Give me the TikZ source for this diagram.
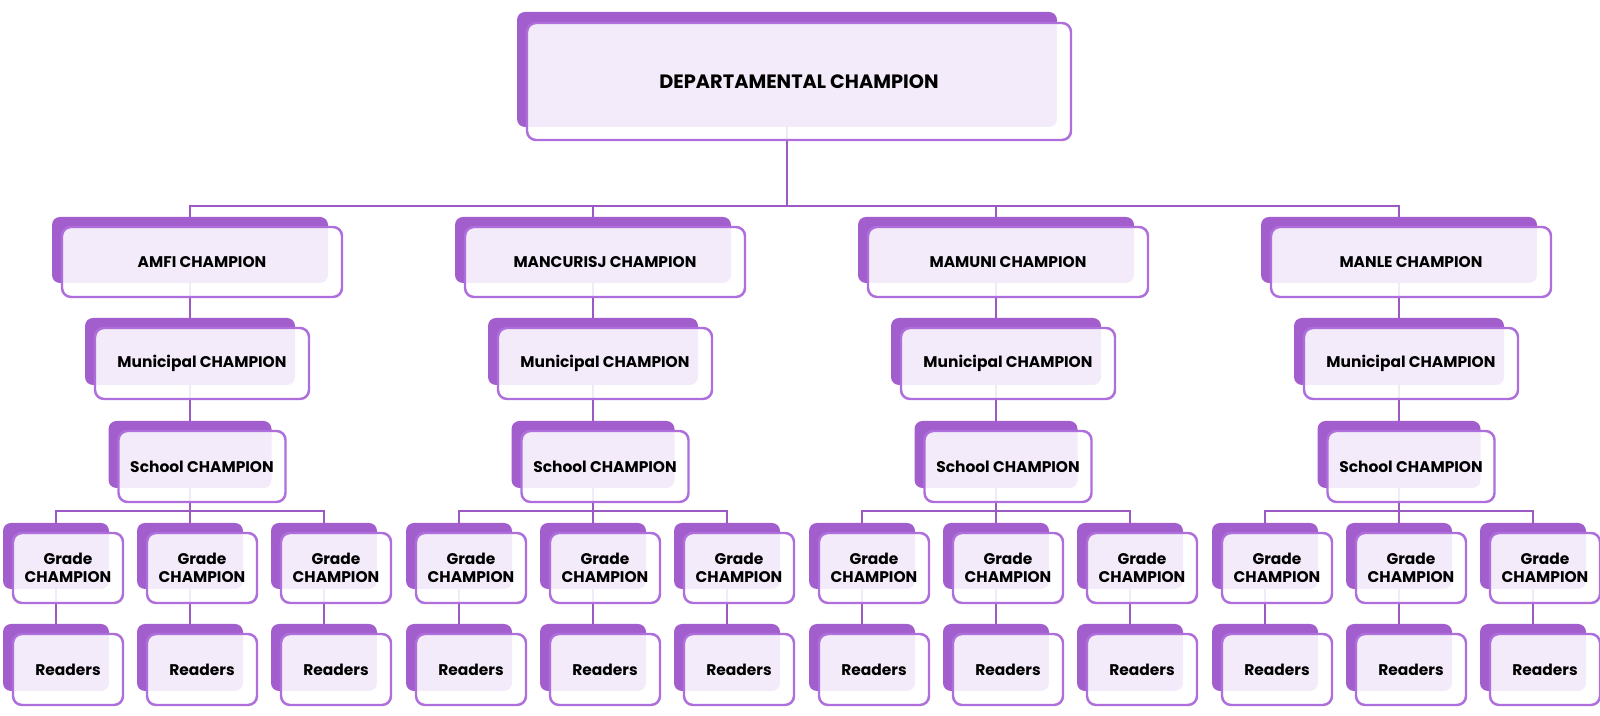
\documentclass[tikz,border=0pt]{standalone}
\usepackage{fontspec}
\setmainfont{Poppins}
\usetikzlibrary{backgrounds}
\definecolor{backpurple}{HTML}{A35ECE}
\definecolor{edgepurple}{HTML}{AE6FDC}
\definecolor{linepurple}{HTML}{9B59C4}
\tikzset{
  backbox/.style={fill=backpurple, rounded corners=0.16cm, inner sep=0pt},
  frontbox/.style={draw=edgepurple, line width=1.4pt, fill=white, fill opacity=0.88, text opacity=1, rounded corners=0.18cm, inner sep=0pt, align=center, font=\bfseries\fontsize{8.8}{10.2}\selectfont},
  link/.style={draw=linepurple, line width=1.6pt}
}
\begin{document}
\begin{tikzpicture}
\useasboundingbox (0.000,0.000) rectangle (32.000,14.320);
\coordinate (topbar) at (0.000,10.200);
\coordinate (schbar) at (0.000,4.100);
\node[backbox, minimum width=10.80cm, minimum height=2.30cm] (dep) at (15.740,12.930) {};
\node[frontbox, minimum width=10.88cm, minimum height=2.34cm, font=\bfseries\fontsize{11}{13}\selectfont] (dep-f) at (15.980,12.690) {DEPARTAMENTAL CHAMPION};
\begin{scope}[shift={(3.800,0.000)}]
\node[backbox, minimum width=5.52cm, minimum height=1.32cm] (amfi) at (0.000,9.320) {};
\node[frontbox, minimum width=5.60cm, minimum height=1.40cm] (amfi-f) at (0.240,9.080) {AMFI CHAMPION};
\node[backbox, minimum width=4.20cm, minimum height=1.34cm] (amfi-mun) at (0.000,7.290) {};
\node[frontbox, minimum width=4.28cm, minimum height=1.42cm] (amfi-mun-f) at (0.240,7.050) {Municipal CHAMPION};
\node[backbox, minimum width=3.26cm, minimum height=1.34cm] (amfi-sch) at (0.000,5.230) {};
\node[frontbox, minimum width=3.34cm, minimum height=1.42cm] (amfi-sch-f) at (0.240,4.990) {School CHAMPION};
\node[backbox, minimum width=2.12cm, minimum height=1.32cm] (amfi-g1) at (-2.680,3.200) {};
\node[frontbox, minimum width=2.20cm, minimum height=1.40cm] (amfi-g1-f) at (-2.440,2.960) {Grade\\CHAMPION};
\node[backbox, minimum width=2.12cm, minimum height=1.32cm] (amfi-g2) at (0.000,3.200) {};
\node[frontbox, minimum width=2.20cm, minimum height=1.40cm] (amfi-g2-f) at (0.240,2.960) {Grade\\CHAMPION};
\node[backbox, minimum width=2.12cm, minimum height=1.32cm] (amfi-g3) at (2.680,3.200) {};
\node[frontbox, minimum width=2.20cm, minimum height=1.40cm] (amfi-g3-f) at (2.920,2.960) {Grade\\CHAMPION};
\node[backbox, minimum width=2.12cm, minimum height=1.34cm] (amfi-r1) at (-2.680,1.170) {};
\node[frontbox, minimum width=2.20cm, minimum height=1.42cm] (amfi-r1-f) at (-2.440,0.930) {Readers};
\node[backbox, minimum width=2.12cm, minimum height=1.34cm] (amfi-r2) at (0.000,1.170) {};
\node[frontbox, minimum width=2.20cm, minimum height=1.42cm] (amfi-r2-f) at (0.240,0.930) {Readers};
\node[backbox, minimum width=2.12cm, minimum height=1.34cm] (amfi-r3) at (2.680,1.170) {};
\node[frontbox, minimum width=2.20cm, minimum height=1.42cm] (amfi-r3-f) at (2.920,0.930) {Readers};
\end{scope}
\begin{scope}[shift={(11.860,0.000)}]
\node[backbox, minimum width=5.52cm, minimum height=1.32cm] (mancurisj) at (0.000,9.320) {};
\node[frontbox, minimum width=5.60cm, minimum height=1.40cm] (mancurisj-f) at (0.240,9.080) {MANCURISJ CHAMPION};
\node[backbox, minimum width=4.20cm, minimum height=1.34cm] (mancurisj-mun) at (0.000,7.290) {};
\node[frontbox, minimum width=4.28cm, minimum height=1.42cm] (mancurisj-mun-f) at (0.240,7.050) {Municipal CHAMPION};
\node[backbox, minimum width=3.26cm, minimum height=1.34cm] (mancurisj-sch) at (0.000,5.230) {};
\node[frontbox, minimum width=3.34cm, minimum height=1.42cm] (mancurisj-sch-f) at (0.240,4.990) {School CHAMPION};
\node[backbox, minimum width=2.12cm, minimum height=1.32cm] (mancurisj-g1) at (-2.680,3.200) {};
\node[frontbox, minimum width=2.20cm, minimum height=1.40cm] (mancurisj-g1-f) at (-2.440,2.960) {Grade\\CHAMPION};
\node[backbox, minimum width=2.12cm, minimum height=1.32cm] (mancurisj-g2) at (0.000,3.200) {};
\node[frontbox, minimum width=2.20cm, minimum height=1.40cm] (mancurisj-g2-f) at (0.240,2.960) {Grade\\CHAMPION};
\node[backbox, minimum width=2.12cm, minimum height=1.32cm] (mancurisj-g3) at (2.680,3.200) {};
\node[frontbox, minimum width=2.20cm, minimum height=1.40cm] (mancurisj-g3-f) at (2.920,2.960) {Grade\\CHAMPION};
\node[backbox, minimum width=2.12cm, minimum height=1.34cm] (mancurisj-r1) at (-2.680,1.170) {};
\node[frontbox, minimum width=2.20cm, minimum height=1.42cm] (mancurisj-r1-f) at (-2.440,0.930) {Readers};
\node[backbox, minimum width=2.12cm, minimum height=1.34cm] (mancurisj-r2) at (0.000,1.170) {};
\node[frontbox, minimum width=2.20cm, minimum height=1.42cm] (mancurisj-r2-f) at (0.240,0.930) {Readers};
\node[backbox, minimum width=2.12cm, minimum height=1.34cm] (mancurisj-r3) at (2.680,1.170) {};
\node[frontbox, minimum width=2.20cm, minimum height=1.42cm] (mancurisj-r3-f) at (2.920,0.930) {Readers};
\end{scope}
\begin{scope}[shift={(19.920,0.000)}]
\node[backbox, minimum width=5.52cm, minimum height=1.32cm] (mamuni) at (0.000,9.320) {};
\node[frontbox, minimum width=5.60cm, minimum height=1.40cm] (mamuni-f) at (0.240,9.080) {MAMUNI CHAMPION};
\node[backbox, minimum width=4.20cm, minimum height=1.34cm] (mamuni-mun) at (0.000,7.290) {};
\node[frontbox, minimum width=4.28cm, minimum height=1.42cm] (mamuni-mun-f) at (0.240,7.050) {Municipal CHAMPION};
\node[backbox, minimum width=3.26cm, minimum height=1.34cm] (mamuni-sch) at (0.000,5.230) {};
\node[frontbox, minimum width=3.34cm, minimum height=1.42cm] (mamuni-sch-f) at (0.240,4.990) {School CHAMPION};
\node[backbox, minimum width=2.12cm, minimum height=1.32cm] (mamuni-g1) at (-2.680,3.200) {};
\node[frontbox, minimum width=2.20cm, minimum height=1.40cm] (mamuni-g1-f) at (-2.440,2.960) {Grade\\CHAMPION};
\node[backbox, minimum width=2.12cm, minimum height=1.32cm] (mamuni-g2) at (0.000,3.200) {};
\node[frontbox, minimum width=2.20cm, minimum height=1.40cm] (mamuni-g2-f) at (0.240,2.960) {Grade\\CHAMPION};
\node[backbox, minimum width=2.12cm, minimum height=1.32cm] (mamuni-g3) at (2.680,3.200) {};
\node[frontbox, minimum width=2.20cm, minimum height=1.40cm] (mamuni-g3-f) at (2.920,2.960) {Grade\\CHAMPION};
\node[backbox, minimum width=2.12cm, minimum height=1.34cm] (mamuni-r1) at (-2.680,1.170) {};
\node[frontbox, minimum width=2.20cm, minimum height=1.42cm] (mamuni-r1-f) at (-2.440,0.930) {Readers};
\node[backbox, minimum width=2.12cm, minimum height=1.34cm] (mamuni-r2) at (0.000,1.170) {};
\node[frontbox, minimum width=2.20cm, minimum height=1.42cm] (mamuni-r2-f) at (0.240,0.930) {Readers};
\node[backbox, minimum width=2.12cm, minimum height=1.34cm] (mamuni-r3) at (2.680,1.170) {};
\node[frontbox, minimum width=2.20cm, minimum height=1.42cm] (mamuni-r3-f) at (2.920,0.930) {Readers};
\end{scope}
\begin{scope}[shift={(27.980,0.000)}]
\node[backbox, minimum width=5.52cm, minimum height=1.32cm] (manle) at (0.000,9.320) {};
\node[frontbox, minimum width=5.60cm, minimum height=1.40cm] (manle-f) at (0.240,9.080) {MANLE CHAMPION};
\node[backbox, minimum width=4.20cm, minimum height=1.34cm] (manle-mun) at (0.000,7.290) {};
\node[frontbox, minimum width=4.28cm, minimum height=1.42cm] (manle-mun-f) at (0.240,7.050) {Municipal CHAMPION};
\node[backbox, minimum width=3.26cm, minimum height=1.34cm] (manle-sch) at (0.000,5.230) {};
\node[frontbox, minimum width=3.34cm, minimum height=1.42cm] (manle-sch-f) at (0.240,4.990) {School CHAMPION};
\node[backbox, minimum width=2.12cm, minimum height=1.32cm] (manle-g1) at (-2.680,3.200) {};
\node[frontbox, minimum width=2.20cm, minimum height=1.40cm] (manle-g1-f) at (-2.440,2.960) {Grade\\CHAMPION};
\node[backbox, minimum width=2.12cm, minimum height=1.32cm] (manle-g2) at (0.000,3.200) {};
\node[frontbox, minimum width=2.20cm, minimum height=1.40cm] (manle-g2-f) at (0.240,2.960) {Grade\\CHAMPION};
\node[backbox, minimum width=2.12cm, minimum height=1.32cm] (manle-g3) at (2.680,3.200) {};
\node[frontbox, minimum width=2.20cm, minimum height=1.40cm] (manle-g3-f) at (2.920,2.960) {Grade\\CHAMPION};
\node[backbox, minimum width=2.12cm, minimum height=1.34cm] (manle-r1) at (-2.680,1.170) {};
\node[frontbox, minimum width=2.20cm, minimum height=1.42cm] (manle-r1-f) at (-2.440,0.930) {Readers};
\node[backbox, minimum width=2.12cm, minimum height=1.34cm] (manle-r2) at (0.000,1.170) {};
\node[frontbox, minimum width=2.20cm, minimum height=1.42cm] (manle-r2-f) at (0.240,0.930) {Readers};
\node[backbox, minimum width=2.12cm, minimum height=1.34cm] (manle-r3) at (2.680,1.170) {};
\node[frontbox, minimum width=2.20cm, minimum height=1.42cm] (manle-r3-f) at (2.920,0.930) {Readers};
\end{scope}
\begin{pgfonlayer}{background}
\draw[link] (dep.center) -- (dep.center |- topbar) -| (amfi.center);
\draw[link] (dep.center) -- (dep.center |- topbar) -| (mancurisj.center);
\draw[link] (dep.center) -- (dep.center |- topbar) -| (mamuni.center);
\draw[link] (dep.center) -- (dep.center |- topbar) -| (manle.center);
\draw[link] (amfi.center) -- (amfi-mun.center) -- (amfi-sch.center);
\draw[link] (amfi-sch.center) -- (amfi-sch.center |- schbar) -| (amfi-g1.center);
\draw[link] (amfi-sch.center) -- (amfi-g2.center);
\draw[link] (amfi-sch.center) -- (amfi-sch.center |- schbar) -| (amfi-g3.center);
\draw[link] (amfi-g1.center) -- (amfi-r1.center);
\draw[link] (amfi-g2.center) -- (amfi-r2.center);
\draw[link] (amfi-g3.center) -- (amfi-r3.center);
\draw[link] (mancurisj.center) -- (mancurisj-mun.center) -- (mancurisj-sch.center);
\draw[link] (mancurisj-sch.center) -- (mancurisj-sch.center |- schbar) -| (mancurisj-g1.center);
\draw[link] (mancurisj-sch.center) -- (mancurisj-g2.center);
\draw[link] (mancurisj-sch.center) -- (mancurisj-sch.center |- schbar) -| (mancurisj-g3.center);
\draw[link] (mancurisj-g1.center) -- (mancurisj-r1.center);
\draw[link] (mancurisj-g2.center) -- (mancurisj-r2.center);
\draw[link] (mancurisj-g3.center) -- (mancurisj-r3.center);
\draw[link] (mamuni.center) -- (mamuni-mun.center) -- (mamuni-sch.center);
\draw[link] (mamuni-sch.center) -- (mamuni-sch.center |- schbar) -| (mamuni-g1.center);
\draw[link] (mamuni-sch.center) -- (mamuni-g2.center);
\draw[link] (mamuni-sch.center) -- (mamuni-sch.center |- schbar) -| (mamuni-g3.center);
\draw[link] (mamuni-g1.center) -- (mamuni-r1.center);
\draw[link] (mamuni-g2.center) -- (mamuni-r2.center);
\draw[link] (mamuni-g3.center) -- (mamuni-r3.center);
\draw[link] (manle.center) -- (manle-mun.center) -- (manle-sch.center);
\draw[link] (manle-sch.center) -- (manle-sch.center |- schbar) -| (manle-g1.center);
\draw[link] (manle-sch.center) -- (manle-g2.center);
\draw[link] (manle-sch.center) -- (manle-sch.center |- schbar) -| (manle-g3.center);
\draw[link] (manle-g1.center) -- (manle-r1.center);
\draw[link] (manle-g2.center) -- (manle-r2.center);
\draw[link] (manle-g3.center) -- (manle-r3.center);
\end{pgfonlayer}
\end{tikzpicture}
\end{document}
